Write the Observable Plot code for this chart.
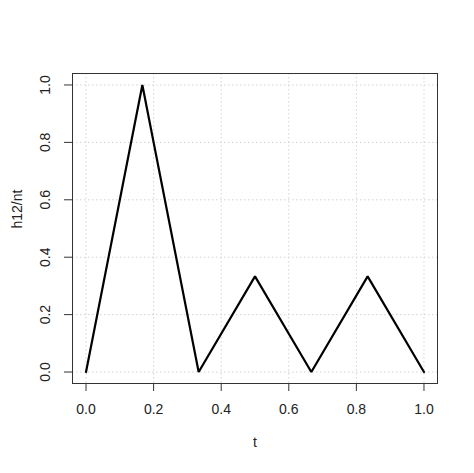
<!DOCTYPE html>
<html><head><meta charset="utf-8">
<script src="https://cdn.jsdelivr.net/npm/d3@7"></script>
<script src="https://cdn.jsdelivr.net/npm/@observablehq/plot@0.6"></script>
<style>body{margin:0;background:#fff}</style>
</head><body><div id="chart"></div>
<script>
const tVals = [0, 0.1667, 0.3333, 0.5, 0.6667, 0.8333, 1];
const hVals = [0, 1, 0, 0.3333, 0, 0.3333, 0];
const xTicks = [0, 0.2, 0.4, 0.6, 0.8, 1.0];
const yTicks = [0, 0.2, 0.4, 0.6, 0.8, 1.0];
const xLabel = "t";
const yLabel = "h12/nt";

const data = tVals.map((t, i) => ({t, h: hVals[i]}));
const fmt = d3.format(".1f");

const chart = Plot.plot({
  width: 474, height: 473,
  marginLeft: 72, marginRight: 37, marginTop: 73, marginBottom: 90,
  style: {fontFamily: "Liberation Sans, Arial, sans-serif", fontSize: "14px", color: "#222", background: "#fff"},
  x: {domain: [-0.04, 1.04]},
  y: {domain: [-0.04, 1.04]},
  marks: [
    Plot.gridX(xTicks, {stroke: "#d3d3d3", strokeOpacity: 1, strokeDasharray: "1.5,2.5"}),
    Plot.gridY(yTicks, {stroke: "#d3d3d3", strokeOpacity: 1, strokeDasharray: "1.5,2.5"}),
    Plot.frame({stroke: "#333", strokeWidth: 1}),
    Plot.axisX({ticks: xTicks, tickSize: 8, tickPadding: 13, tickFormat: fmt, label: null, stroke: "#333", fontSize: 14}),
    Plot.axisY({ticks: yTicks, tickSize: 8, tickFormat: () => "", label: null, stroke: "#333"}),
    Plot.text(yTicks, {y: d => d, text: d => fmt(d), frameAnchor: "left", dx: -27, rotate: -90, textAnchor: "middle", fontSize: 14, fill: "#222"}),
    Plot.text([xLabel], {text: d => d, frameAnchor: "bottom", dy: 63, fontSize: 14, fill: "#222"}),
    Plot.text([yLabel], {text: d => d, frameAnchor: "left", dx: -55, rotate: -90, fontSize: 14, fill: "#222"}),
    Plot.line(data, {x: "t", y: "h", stroke: "#000", strokeWidth: 2.2, strokeLinejoin: "miter"})
  ]
});
document.getElementById("chart").appendChild(chart);
</script></body></html>
